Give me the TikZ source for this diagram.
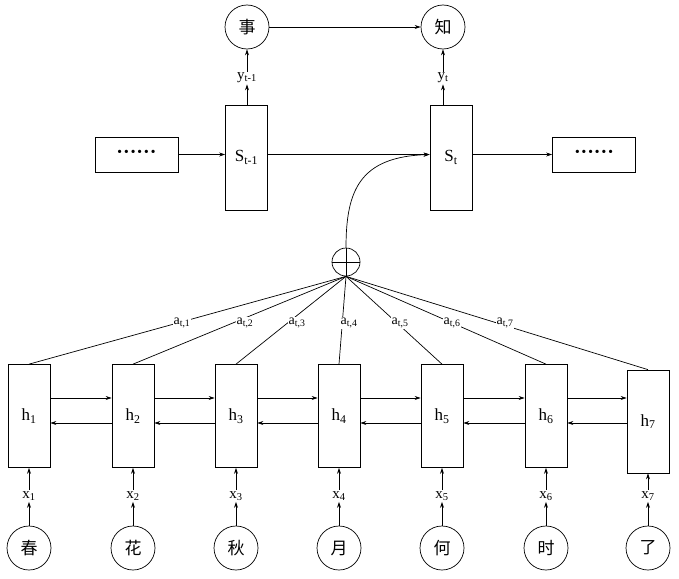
\documentclass[tikz,border=0pt]{standalone}
\usepackage{fontspec}
\setmainfont{Liberation Serif}
\newfontfamily\cjk{Noto Sans CJK SC}
\usetikzlibrary{arrows.meta}
\begin{document}
\begin{tikzpicture}[x=1pt,y=-1pt,
  box/.style={draw,minimum width=42pt,minimum height=103pt,inner sep=0pt,font=\fontsize{17}{17}\selectfont},
  cir/.style={draw,circle,minimum size=44pt,inner sep=0pt,font=\cjk\fontsize{17}{17}\selectfont},
  dbox/.style={draw,minimum width=83pt,minimum height=35pt,font=\bfseries\fontsize{20}{20}\selectfont},
  lab/.style={font=\fontsize{15}{15}\selectfont,inner sep=1pt},
  alab/.style={font=\fontsize{14}{14}\selectfont,fill=white,inner sep=1pt},
  arr/.style={-{Stealth[length=6pt,width=4pt]}},
  every path/.style={line width=0.7pt}]
\useasboundingbox (0,0) rectangle (679,578);
\node[cir] (c1) at (247,27) {事};
\node[cir] (c2) at (443,27) {知};
\draw[arr] (c1) -- (c2);
\node[box,minimum height=105pt] (s1) at (246.5,157.5) {S\textsubscript{t-1}};
\node[box,minimum height=105pt] (s2) at (451,157.5) {S\textsubscript{t}};
\node[dbox] (d1) at (136.5,154.5) {\textperiodcentered\textperiodcentered\textperiodcentered\textperiodcentered\textperiodcentered\textperiodcentered};
\node[dbox] (d2) at (594,154.5) {\textperiodcentered\textperiodcentered\textperiodcentered\textperiodcentered\textperiodcentered\textperiodcentered};
\draw[arr] (d1.east) -- (d1.east -| s1.west);
\draw[arr] (s1.east |- d1.east) -- (s2.west |- d1.east);
\draw[arr] (s2.east |- d2.west) -- (d2.west);
\node[lab] (y1) at (247,78) {y\textsubscript{t-1}};
\node[lab] (y2) at (443,78) {y\textsubscript{t}};
\draw[arr] (s1.north -| y1) -- (y1);
\draw[arr] (y1) -- (c1);
\draw[arr] (s2.north -| y2) -- (y2);
\draw[arr] (y2) -- (c2);
\node[draw,circle,minimum size=28pt,inner sep=0pt] (op) at (346,262) {};
\draw (op.north) -- (op.south) (op.west) -- (op.east);
\draw[arr] (op.north) .. controls (346,190) and (360,157) .. (s2.west |- d1.east);
\foreach \i/\x/\y/\w in {1/29/416/春,2/133/416/花,3/236/416/秋,4/339/416/月,5/442/416/何,6/546/416/时,7/648/421.5/了}{
  \node[box] (h\i) at (\x,\y) {h\textsubscript{\i}};
  \node[cir] (w\i) at (\x,548) {\w};
  \node[lab] (x\i) at (\x,496) {x\textsubscript{\i}};
  \draw[arr] (w\i) -- (x\i);
  \draw[arr] (x\i) -- (h\i.south);
}
\foreach \a/\b in {1/2,2/3,3/4,4/5,5/6,6/7}{
  \draw[arr] (h\a.east |- 0,398) -- (h\b.west |- 0,398);
  \draw[arr] (h\b.west |- 0,423) -- (h\a.east |- 0,423);
}
\foreach \i/\lx in {1/182,2/245,3/297,4/349,5/400,6/452,7/505}{
  \draw (h\i.north) -- (op.south);
  \node[alab] at (\lx,323) {a\textsubscript{t,\i}};
}
\end{tikzpicture}
\end{document}
